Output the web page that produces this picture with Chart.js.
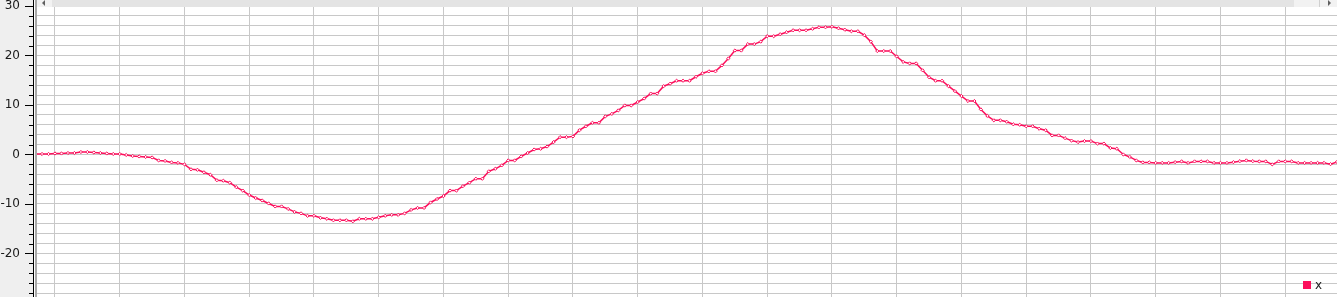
<!DOCTYPE html>
<html lang="en">

<head>
    <meta charset="UTF-8">
    <title>x</title>
    <script src="https://cdn.jsdelivr.net/npm/chart.js@4/dist/chart.umd.min.js"></script>
    <style>
        html, body { margin: 0; padding: 0; background: #ffffff; overflow: hidden; }
        #chartX { display: block; }
    </style>
</head>

<body>
    <canvas id="chartX" width="1337" height="297"></canvas>
</body>

</html>
<script>
    // sample index of the first value (series starts just left of the view)
    var firstIndex = -3;

    var xValues = [
        0.1, 0.1, 0.1, 0.2, 0.2, 0.3, 0.3, 0.5, 0.5, 0.4,
        0.3, 0.2, 0.1, 0.1, -0.1, -0.3, -0.4, -0.5, -0.6, -1.2,
        -1.3, -1.6, -1.7, -2.0, -3.0, -3.1, -3.6, -4.1, -5.2, -5.3,
        -5.7, -6.6, -7.3, -8.2, -8.8, -9.3, -9.9, -10.5, -10.5, -11.0,
        -11.6, -11.9, -12.4, -12.4, -12.8, -13.0, -13.3, -13.3, -13.3, -13.5,
        -13.0, -13.0, -13.0, -12.7, -12.4, -12.2, -12.2, -11.9, -11.2, -10.8,
        -10.8, -9.7, -9.0, -8.4, -7.3, -7.3, -6.4, -5.7, -4.9, -4.9,
        -3.4, -2.9, -2.2, -1.2, -1.2, -0.4, 0.3, 1.0, 1.15, 1.6,
        2.5, 3.5, 3.5, 3.65, 4.9, 5.7, 6.4, 6.4, 7.7, 8.2,
        8.9, 9.9, 9.9, 10.6, 11.3, 12.3, 12.3, 13.8, 14.3, 14.9,
        14.9, 14.9, 15.7, 16.4, 16.8, 16.8, 18.0, 19.4, 21.0, 21.0,
        22.3, 22.3, 22.8, 23.9, 23.9, 24.3, 24.7, 25.1, 25.1, 25.1,
        25.4, 25.7, 25.7, 25.8, 25.5, 25.2, 24.9, 24.9, 24.1, 22.8,
        20.9, 20.9, 20.9, 19.8, 18.7, 18.4, 18.4, 17.0, 15.6, 14.9,
        14.9, 13.8, 12.8, 11.8, 10.8, 10.8, 9.1, 7.8, 6.9, 6.9,
        6.6, 6.1, 6.0, 5.7, 5.7, 5.2, 4.9, 3.85, 3.85, 3.3,
        2.8, 2.5, 2.7, 2.7, 2.2, 2.2, 1.3, 1.15, 0.0, -0.5,
        -1.2, -1.6, -1.6, -1.7, -1.7, -1.7, -1.55, -1.4, -1.7, -1.4,
        -1.4, -1.4, -1.7, -1.7, -1.7, -1.55, -1.35, -1.2, -1.35, -1.4,
        -1.4, -2.0, -1.4, -1.4, -1.4, -1.7, -1.7, -1.7, -1.7, -1.7,
        -1.95, -1.5
    ];

    var yTickLabels = [-20, -10, 0, 10, 20, 30];
    var xGridValues = [0, 10, 20, 30, 40, 50, 60, 70, 80, 90, 100, 110, 120, 130, 140, 150, 160, 170, 180, 190];

    var lineColor = '#fc0f5c';

    var points = xValues.map(function (v, i) {
        return { x: firstIndex + i, y: v };
    });

    // left panel, axis lines, tick marks, scroll bar and legend
    var frame = {
        id: 'frame',
        beforeDraw: function (chart) {
            var c = chart.ctx;
            var a = chart.chartArea;
            c.save();
            c.fillStyle = '#ffffff';
            c.fillRect(0, 0, chart.width, chart.height);
            c.fillStyle = '#efefef';
            c.fillRect(0, 0, a.left - 4, chart.height);
            c.restore();
        },
        afterDraw: function (chart) {
            var c = chart.ctx;
            var a = chart.chartArea;
            var ys = chart.scales.y;
            c.save();

            // axis lines
            c.fillStyle = '#000000';
            c.fillRect(a.left - 4, 0, 1, chart.height);
            c.fillStyle = '#a8a8a8';
            c.fillRect(a.left - 2, 0, 2, chart.height);

            // tick marks, long every 10, short every 2
            c.fillStyle = '#000000';
            for (var v = -28; v <= 30; v += 2) {
                var py = Math.round(ys.getPixelForValue(v));
                var len = (v % 10 === 0) ? 8 : 4;
                c.fillRect(a.left - 4 - len, py, len, 1);
            }

            // scroll bar on top
            c.fillStyle = '#e4e4e4';
            c.fillRect(a.left, 0, chart.width - a.left, 7);
            c.fillStyle = '#f2f2f2';
            c.fillRect(a.left, 0, 15, 7);
            c.fillRect(chart.width - 43, 0, 25, 7);
            c.fillRect(chart.width - 17, 0, 17, 7);
            c.fillStyle = '#d0d0d0';
            c.fillRect(chart.width - 18, 0, 1, 7);
            c.fillStyle = '#606060';
            c.beginPath();
            c.moveTo(a.left + 5, 3);
            c.lineTo(a.left + 8, 0);
            c.lineTo(a.left + 8, 6);
            c.closePath();
            c.fill();
            c.beginPath();
            c.moveTo(chart.width - 6, 3);
            c.lineTo(chart.width - 9, 0);
            c.lineTo(chart.width - 9, 6);
            c.closePath();
            c.fill();

            // legend
            var ds = chart.data.datasets[0];
            c.fillStyle = ds.borderColor;
            c.fillRect(chart.width - 34, 281, 8, 8);
            c.fillStyle = '#222222';
            c.font = '12px "DejaVu Sans"';
            c.textBaseline = 'middle';
            c.fillText(ds.label, chart.width - 22, 286);
            c.restore();
        }
    };

    var configX = {
        type: 'line',
        data: {
            datasets: [{
                label: 'x',
                data: points,
                borderColor: lineColor,
                backgroundColor: '#ffffff',
                borderWidth: 1.5,
                pointStyle: 'rectRot',
                pointRadius: 1.6,
                pointBorderWidth: 1,
                pointBackgroundColor: '#ffffff',
                pointBorderColor: lineColor,
                tension: 0,
                clip: 0
            }]
        },
        options: {
            responsive: false,
            animation: false,
            events: [],
            layout: { autoPadding: false, padding: { top: 6, left: 0, right: 0, bottom: 0 } },
            plugins: {
                legend: { display: false },
                tooltip: { enabled: false },
                title: { display: false }
            },
            scales: {
                x: {
                    type: 'linear',
                    min: -2.78,
                    max: 198,
                    afterBuildTicks: function (s) {
                        s.ticks = xGridValues.map(function (v) { return { value: v }; });
                    },
                    afterFit: function (s) {
                        s.height = 0;
                        s.paddingLeft = 0;
                        s.paddingRight = 0;
                    },
                    ticks: { display: false },
                    border: { display: false },
                    grid: { color: '#c8c8c8', lineWidth: 1, drawTicks: false }
                },
                y: {
                    type: 'linear',
                    min: -28.8,
                    max: 30,
                    afterBuildTicks: function (s) {
                        var t = [];
                        for (var v = -28; v <= 30; v += 2) t.push({ value: v });
                        s.ticks = t;
                    },
                    afterFit: function (s) {
                        s.width = 37;
                        s.paddingTop = 0;
                        s.paddingBottom = 0;
                    },
                    ticks: {
                        padding: 17,
                        color: '#1a1a1a',
                        font: { family: 'DejaVu Sans', size: 12 },
                        autoSkip: false,
                        callback: function (v) {
                            return yTickLabels.indexOf(v) >= 0 ? String(v) : '';
                        }
                    },
                    border: { display: false },
                    grid: { color: '#c8c8c8', lineWidth: 1, drawTicks: false }
                }
            }
        },
        plugins: [frame]
    };

    var ctx = document.getElementById('chartX').getContext('2d');
    window.chartX = new Chart(ctx, configX);
</script>
